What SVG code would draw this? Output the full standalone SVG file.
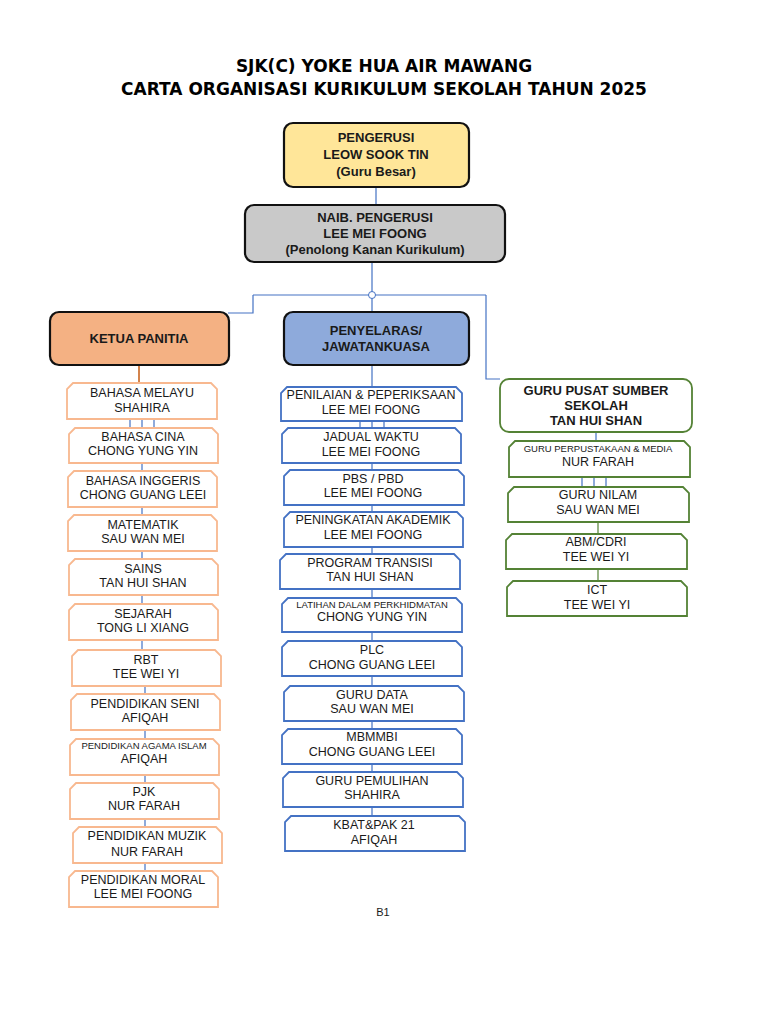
<svg xmlns="http://www.w3.org/2000/svg" width="768" height="1024" viewBox="0 0 768 1024">
<style>
text{font-family:"DejaVu Sans","Liberation Sans",sans-serif;fill:#1a1a1a;text-anchor:middle}
.t{font-size:17px;font-weight:bold;fill:#000}
.h{font-family:"Liberation Sans",Arial,sans-serif;font-size:13px;font-weight:bold}
.s{font-family:"Liberation Sans",Arial,sans-serif;font-size:12.5px}
.xs{font-family:"Liberation Sans",Arial,sans-serif;font-size:9.5px}
.hb{stroke:#111;stroke-width:2.2}
.o{fill:#fff;stroke:#f8b88f;stroke-width:1.8}
.b{fill:#fff;stroke:#4472c4;stroke-width:1.8}
.g{fill:#fff;stroke:#548235;stroke-width:1.8}
.c{fill:none;stroke:#4472c4;stroke-width:1.2}
</style>
<text class="t" x="384" y="72">SJK(C) YOKE HUA AIR MAWANG</text>
<text class="t" x="384" y="95">CARTA ORGANISASI KURIKULUM SEKOLAH TAHUN 2025</text>
<g id="connectors">
<path class="c" d="M376 187V205M372 262V295M253 295H486M253 295V313H228M372 295V312M486 295V379H500M372 365V387M596 432V441"/>
<path d="M139 365V383" stroke="#c55a11" stroke-width="1.5"/>
<circle cx="372" cy="295" r="3.5" fill="#fff" stroke="#4472c4"/>
<path class="c" d="M130 419V428M142 419V428M154 419V428M142 463V471M142 507V515M142 551V559M142 595V604M142 640V650M145 686V694M145 730V739M145 775V783M145 819V827M145 863V871"/>
<path class="c" d="M360 421V428M372 421V428M384 421V428M372 463V470M372 505V512M372 547V554M372 589V598M372 632V641M372 676V686M372 721V729M372 764V772M372 807V816"/>
<path class="c" d="M582 477V487M594 477V487M606 477V487"/>
<path d="M598 522V534M598 569V581" stroke="#548235" stroke-width="1.2"/>
</g>
<g id="pengerusi"><rect x="284" y="123" width="185" height="64" rx="9" fill="#ffe699" class="hb"/><text class="h" x="376" y="142">PENGERUSI</text><text class="h" x="376" y="159">LEOW SOOK TIN</text><text class="h" x="376" y="176">(Guru Besar)</text></g>
<g id="naib"><rect x="245" y="205" width="260" height="57" rx="9" fill="#c9c9c9" class="hb"/><text class="h" x="375" y="222">NAIB. PENGERUSI</text><text class="h" x="375" y="238">LEE MEI FOONG</text><text class="h" x="375" y="254">(Penolong Kanan Kurikulum)</text></g>
<g id="ketua"><rect x="50" y="312" width="179" height="53" rx="9" fill="#f4b183" class="hb"/><text class="h" x="139" y="343">KETUA PANITIA</text></g>
<g id="penyelaras"><rect x="284" y="312" width="185" height="53" rx="9" fill="#8eaadb" class="hb"/><text class="h" x="376" y="335">PENYELARAS/</text><text class="h" x="376" y="351">JAWATANKUASA</text></g>
<g id="gps"><rect x="500" y="379" width="192" height="53" rx="9" class="g"/><text class="h" x="596" y="395">GURU PUSAT SUMBER</text><text class="h" x="596" y="410">SEKOLAH</text><text class="h" x="596" y="425">TAN HUI SHAN</text></g>
<!-- left column -->
<g id="l1"><path class="o" d="M67 419V389l6-6h138l6 6v30z"/><text class="s" x="142" y="397">BAHASA MELAYU</text><text class="s" x="142" y="412">SHAHIRA</text></g>
<g id="l2"><path class="o" d="M69 463V434l6-6h137l6 6v29z"/><text class="s" x="143" y="441">BAHASA CINA</text><text class="s" x="143" y="455">CHONG YUNG YIN</text></g>
<g id="l3"><path class="o" d="M68 507V477l6-6h137l6 6v30z"/><text class="s" x="143" y="485">BAHASA INGGERIS</text><text class="s" x="143" y="499">CHONG GUANG LEEI</text></g>
<g id="l4"><path class="o" d="M68 551V521l6-6h137l6 6v30z"/><text class="s" x="143" y="529">MATEMATIK</text><text class="s" x="143" y="543">SAU WAN MEI</text></g>
<g id="l5"><path class="o" d="M69 595V565l6-6h137l6 6v30z"/><text class="s" x="143" y="573">SAINS</text><text class="s" x="143" y="587">TAN HUI SHAN</text></g>
<g id="l6"><path class="o" d="M69 640V610l6-6h137l6 6v30z"/><text class="s" x="143" y="618">SEJARAH</text><text class="s" x="143" y="632">TONG LI XIANG</text></g>
<g id="l7"><path class="o" d="M72 686V656l6-6h137l6 6v30z"/><text class="s" x="146" y="664">RBT</text><text class="s" x="146" y="678">TEE WEI YI</text></g>
<g id="l8"><path class="o" d="M71 730V700l6-6h137l6 6v30z"/><text class="s" x="145" y="708">PENDIDIKAN SENI</text><text class="s" x="145" y="722">AFIQAH</text></g>
<g id="l9"><path class="o" d="M70 775V745l6-6h137l6 6v30z"/><text class="xs" x="144" y="749">PENDIDIKAN AGAMA ISLAM</text><text class="s" x="144" y="763">AFIQAH</text></g>
<g id="l10"><path class="o" d="M70 819V789l6-6h137l6 6v30z"/><text class="s" x="144" y="796">PJK</text><text class="s" x="144" y="810">NUR FARAH</text></g>
<g id="l11"><path class="o" d="M73 863V833l6-6h137l6 6v30z"/><text class="s" x="147" y="840">PENDIDIKAN MUZIK</text><text class="s" x="147" y="856">NUR FARAH</text></g>
<g id="l12"><path class="o" d="M69 907V877l6-6h137l6 6v30z"/><text class="s" x="143" y="884">PENDIDIKAN MORAL</text><text class="s" x="143" y="898">LEE MEI FOONG</text></g>
<!-- middle column -->
<g id="m1"><path class="b" d="M281 421V393l6-6h169l6 6v28z"/><text class="s" x="371" y="399">PENILAIAN &amp; PEPERIKSAAN</text><text class="s" x="371" y="414">LEE MEI FOONG</text></g>
<g id="m2"><path class="b" d="M282 463V434l6-6h167l6 6v29z"/><text class="s" x="371" y="441">JADUAL WAKTU</text><text class="s" x="371" y="456">LEE MEI FOONG</text></g>
<g id="m3"><path class="b" d="M284 505V476l6-6h168l6 6v29z"/><text class="s" x="373" y="483">PBS / PBD</text><text class="s" x="373" y="497">LEE MEI FOONG</text></g>
<g id="m4"><path class="b" d="M284 547V518l6-6h167l6 6v29z"/><text class="s" x="373" y="524">PENINGKATAN AKADEMIK</text><text class="s" x="373" y="539">LEE MEI FOONG</text></g>
<g id="m5"><path class="b" d="M280 589V560l6-6h168l6 6v29z"/><text class="s" x="370" y="567">PROGRAM TRANSISI</text><text class="s" x="370" y="581">TAN HUI SHAN</text></g>
<g id="m6"><path class="b" d="M282 632V604l6-6h168l6 6v28z"/><text class="xs" x="372" y="608">LATIHAN DALAM PERKHIDMATAN</text><text class="s" x="372" y="621">CHONG YUNG YIN</text></g>
<g id="m7"><path class="b" d="M282 676V647l6-6h168l6 6v29z"/><text class="s" x="372" y="654">PLC</text><text class="s" x="372" y="669">CHONG GUANG LEEI</text></g>
<g id="m8"><path class="b" d="M284 721V692l6-6h168l6 6v29z"/><text class="s" x="372" y="699">GURU DATA</text><text class="s" x="372" y="713">SAU WAN MEI</text></g>
<g id="m9"><path class="b" d="M282 764V735l6-6h168l6 6v29z"/><text class="s" x="372" y="741">MBMMBI</text><text class="s" x="372" y="756">CHONG GUANG LEEI</text></g>
<g id="m10"><path class="b" d="M283 807V778l6-6h168l6 6v29z"/><text class="s" x="372" y="785">GURU PEMULIHAN</text><text class="s" x="372" y="799">SHAHIRA</text></g>
<g id="m11"><path class="b" d="M285 851V822l6-6h168l6 6v29z"/><text class="s" x="374" y="829">KBAT&amp;PAK 21</text><text class="s" x="374" y="844">AFIQAH</text></g>
<!-- right column -->
<g id="r1"><path class="g" d="M509 477V447l6-6h169l6 6v30z"/><text class="xs" x="598" y="452">GURU PERPUSTAKAAN &amp; MEDIA</text><text class="s" x="598" y="466">NUR FARAH</text></g>
<g id="r2"><path class="g" d="M508 522V493l6-6h169l6 6v29z"/><text class="s" x="598" y="499">GURU NILAM</text><text class="s" x="598" y="514">SAU WAN MEI</text></g>
<g id="r3"><path class="g" d="M506 569V540l6-6h169l6 6v29z"/><text class="s" x="596" y="546">ABM/CDRI</text><text class="s" x="596" y="561">TEE WEI YI</text></g>
<g id="r4"><path class="g" d="M507 616V587l6-6h168l6 6v29z"/><text class="s" x="597" y="594">ICT</text><text class="s" x="597" y="609">TEE WEI YI</text></g>
<text class="s" x="383" y="916" style="font-size:11px">B1</text>
</svg>
